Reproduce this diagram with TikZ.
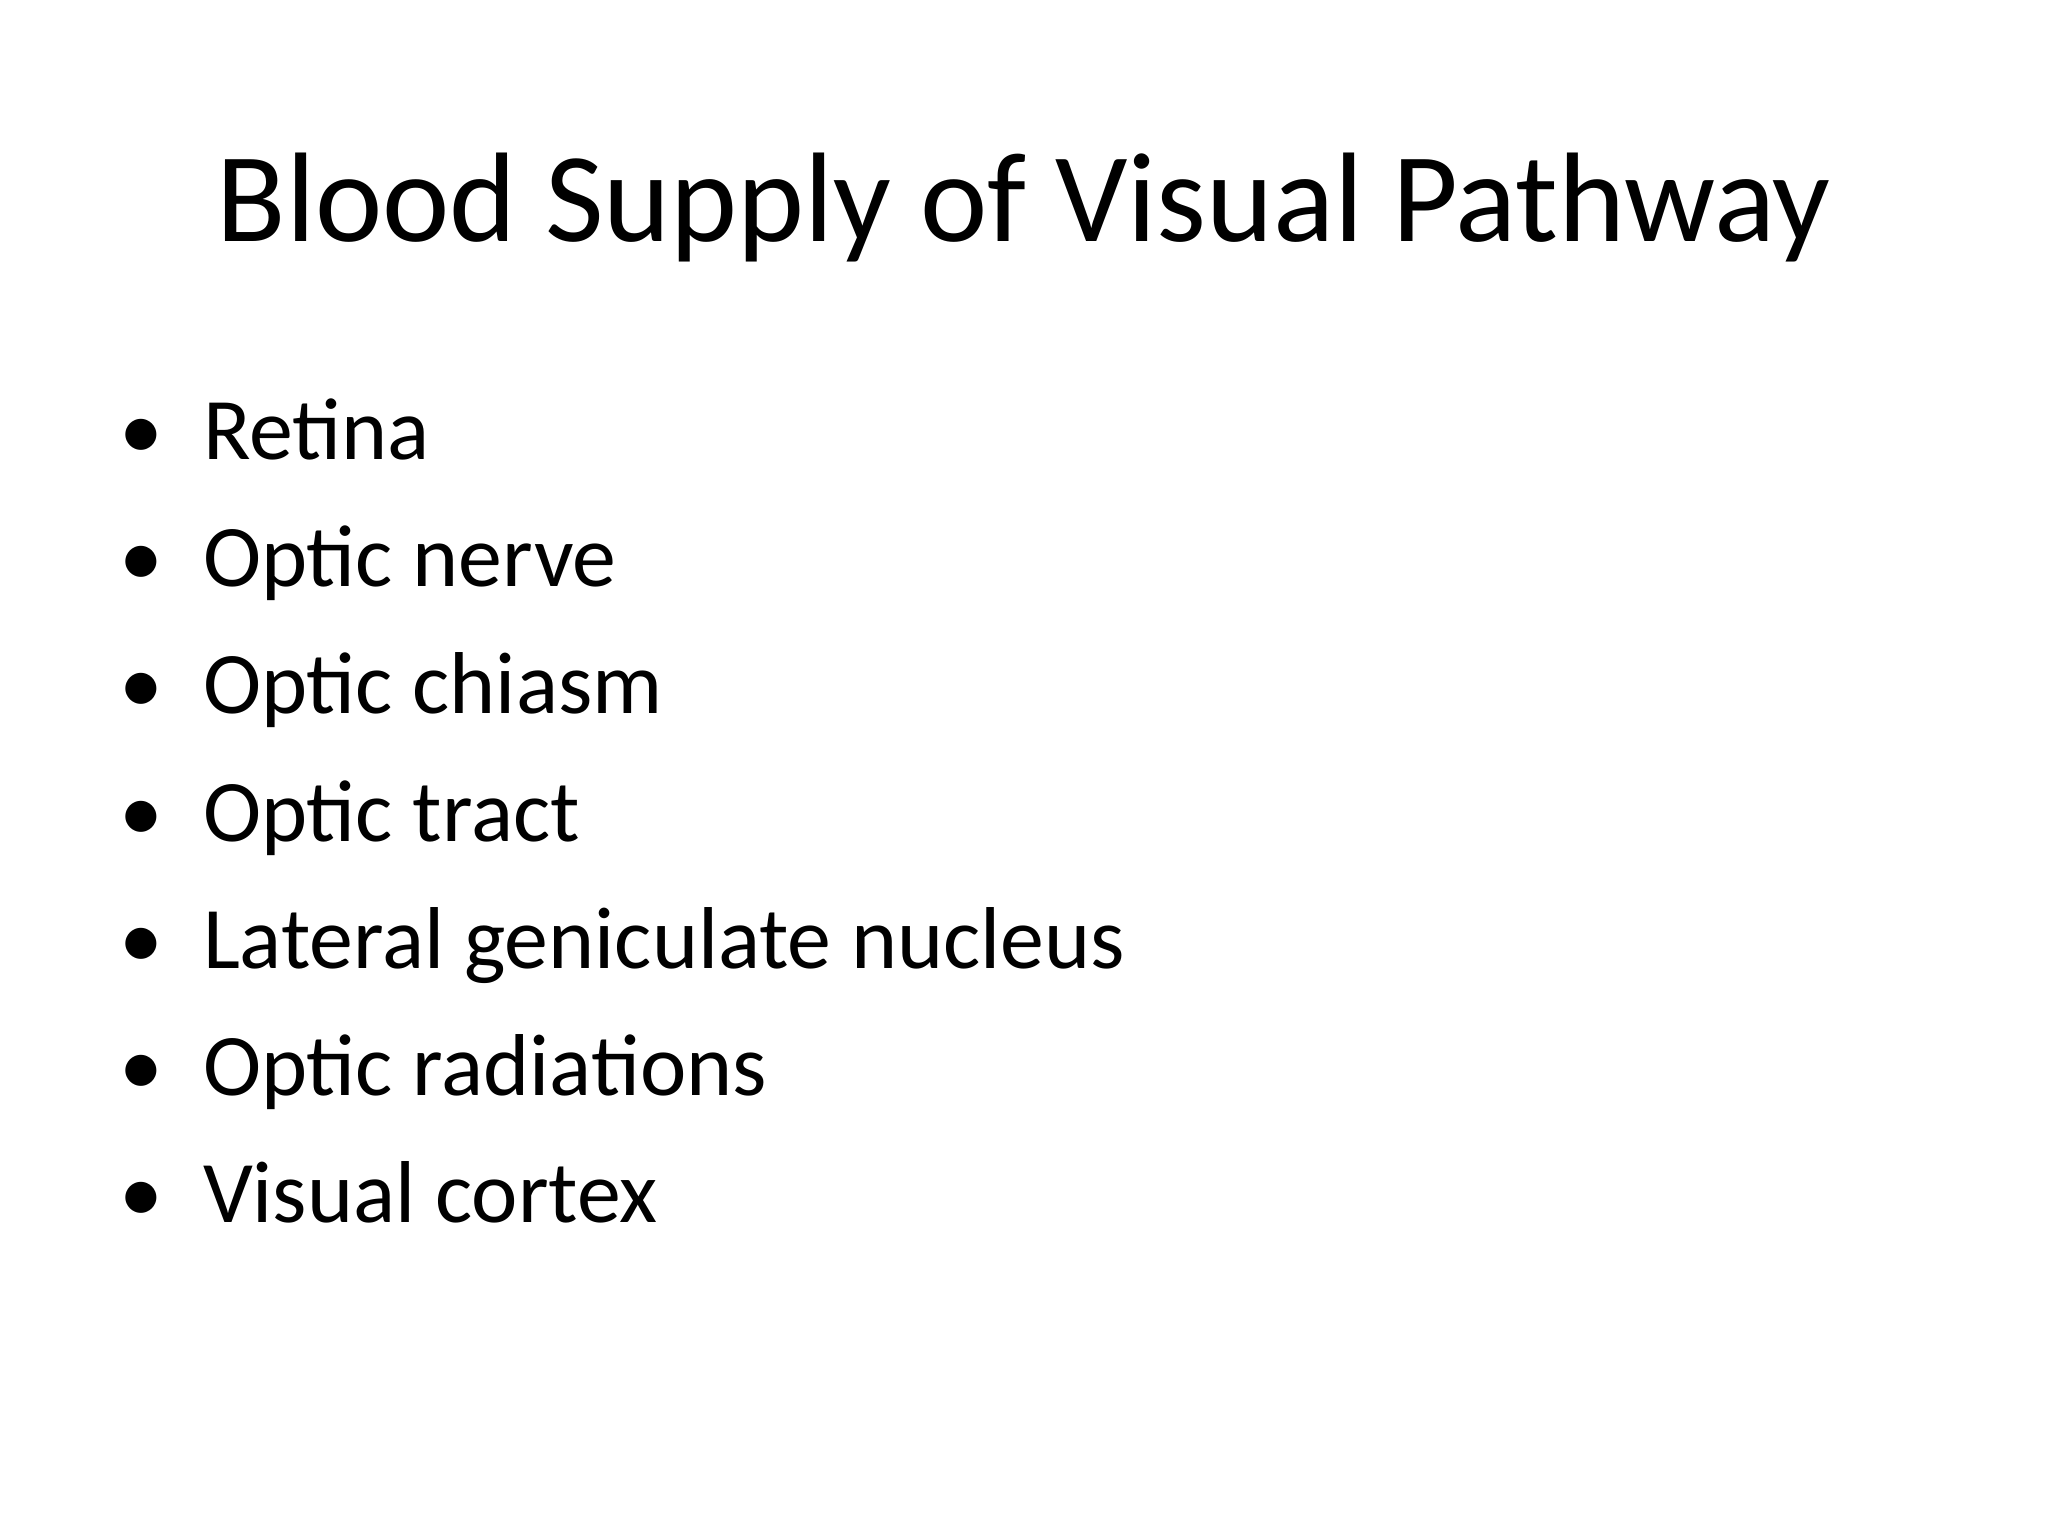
\documentclass[tikz,border=0pt]{standalone}
\usepackage{fontspec}
\setmainfont{Carlito}
\begin{document}
\begin{tikzpicture}[x=0.0162cm,y=-0.0162cm,
  item/.style={anchor=base west,inner sep=0pt,font=\fontsize{31}{37}\selectfont},
  dot/.style={anchor=base,inner sep=0pt,font=\fontsize{31}{37}\selectfont}]
\useasboundingbox (0,0) rectangle (1568,1176);
\node[anchor=base,inner sep=0pt,font=\fontsize{45}{54}\selectfont] (title) at (784,185) {Blood Supply of Visual Pathway};
\foreach \t [count=\i] in {Retina,Optic nerve,Optic chiasm,Optic tract,Lateral geniculate nucleus,Optic radiations,Visual cortex}{
  \pgfmathsetmacro\yy{352+97.3*(\i-1)}
  \node[dot] (b\i) at (108,\yy) {•};
  \node[item] (t\i) at (155,\yy) {\t};
}
\end{tikzpicture}
\end{document}
